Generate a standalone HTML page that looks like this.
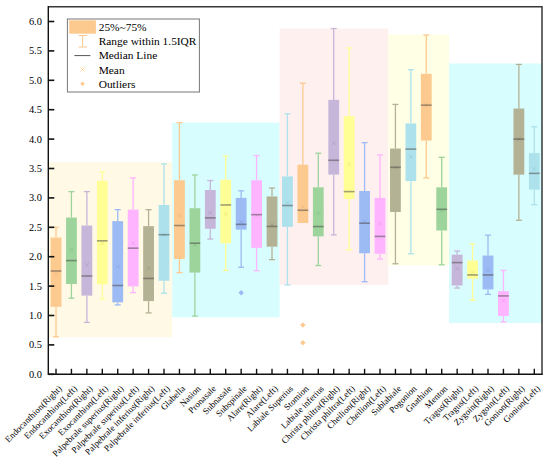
<!DOCTYPE html><html><head><meta charset="utf-8"><style>html,body{margin:0;padding:0;background:#fff;}svg{display:block}text{font-family:"Liberation Serif",serif;fill:#000}</style></head><body>
<svg width="550" height="461" viewBox="0 0 550 461">
<rect x="48.30" y="162.21" width="123.90" height="175.05" fill="#FFF9E6"/>
<rect x="172.20" y="122.64" width="107.40" height="194.63" fill="#D8FDFF"/>
<rect x="279.60" y="28.56" width="108.70" height="256.37" fill="#FFF0F0"/>
<rect x="388.30" y="34.44" width="60.70" height="231.08" fill="#FFFFE6"/>
<rect x="449.00" y="63.48" width="93.00" height="259.54" fill="#D8FDFF"/>
<line x1="56.01" y1="227.30" x2="56.01" y2="237.53" stroke="#FCCA8F" stroke-width="1.3"/>
<line x1="56.01" y1="306.80" x2="56.01" y2="336.79" stroke="#FCCA8F" stroke-width="1.3"/>
<line x1="53.01" y1="227.30" x2="59.01" y2="227.30" stroke="#FCCA8F" stroke-width="1.3"/>
<line x1="53.01" y1="336.79" x2="59.01" y2="336.79" stroke="#FCCA8F" stroke-width="1.3"/>
<rect x="50.61" y="237.53" width="10.80" height="69.27" fill="#FCCA8F"/>
<path d="M54.01 271.75L58.01 275.75M54.01 275.75L58.01 271.75" stroke="#E8A868" stroke-width="0.8" fill="none" opacity="0.55"/>
<line x1="50.61" y1="270.99" x2="61.41" y2="270.99" stroke="#4a4848" stroke-opacity="0.52" stroke-width="1.6"/>
<line x1="71.44" y1="191.61" x2="71.44" y2="217.60" stroke="#9CD49C" stroke-width="1.3"/>
<line x1="71.44" y1="284.04" x2="71.44" y2="298.21" stroke="#9CD49C" stroke-width="1.3"/>
<line x1="68.44" y1="191.61" x2="74.44" y2="191.61" stroke="#9CD49C" stroke-width="1.3"/>
<line x1="68.44" y1="298.21" x2="74.44" y2="298.21" stroke="#9CD49C" stroke-width="1.3"/>
<rect x="66.04" y="217.60" width="10.80" height="66.44" fill="#9CD49C"/>
<path d="M69.44 247.64L73.44 251.64M69.44 251.64L73.44 247.64" stroke="#78B878" stroke-width="0.8" fill="none" opacity="0.55"/>
<line x1="66.04" y1="260.58" x2="76.84" y2="260.58" stroke="#4a4848" stroke-opacity="0.52" stroke-width="1.6"/>
<line x1="86.87" y1="191.61" x2="86.87" y2="225.54" stroke="#C6B6DA" stroke-width="1.3"/>
<line x1="86.87" y1="295.63" x2="86.87" y2="322.38" stroke="#C6B6DA" stroke-width="1.3"/>
<line x1="83.87" y1="191.61" x2="89.87" y2="191.61" stroke="#C6B6DA" stroke-width="1.3"/>
<line x1="83.87" y1="322.38" x2="89.87" y2="322.38" stroke="#C6B6DA" stroke-width="1.3"/>
<rect x="81.47" y="225.54" width="10.80" height="70.09" fill="#C6B6DA"/>
<path d="M84.87 262.93L88.87 266.93M84.87 266.93L88.87 262.93" stroke="#A090C0" stroke-width="0.8" fill="none" opacity="0.55"/>
<line x1="81.47" y1="275.99" x2="92.27" y2="275.99" stroke="#4a4848" stroke-opacity="0.52" stroke-width="1.6"/>
<line x1="102.30" y1="172.03" x2="102.30" y2="180.85" stroke="#FFFF96" stroke-width="1.3"/>
<line x1="102.30" y1="284.34" x2="102.30" y2="299.04" stroke="#FFFF96" stroke-width="1.3"/>
<line x1="99.30" y1="172.03" x2="105.30" y2="172.03" stroke="#FFFF96" stroke-width="1.3"/>
<line x1="99.30" y1="299.04" x2="105.30" y2="299.04" stroke="#FFFF96" stroke-width="1.3"/>
<rect x="96.90" y="180.85" width="10.80" height="103.49" fill="#FFFF96"/>
<path d="M100.30 241.18L104.30 245.18M100.30 245.18L104.30 241.18" stroke="#D8D860" stroke-width="0.8" fill="none" opacity="0.55"/>
<line x1="96.90" y1="240.82" x2="107.70" y2="240.82" stroke="#4a4848" stroke-opacity="0.52" stroke-width="1.6"/>
<line x1="117.73" y1="209.66" x2="117.73" y2="221.13" stroke="#9CBAF4" stroke-width="1.3"/>
<line x1="117.73" y1="302.39" x2="117.73" y2="304.92" stroke="#9CBAF4" stroke-width="1.3"/>
<line x1="114.73" y1="209.66" x2="120.73" y2="209.66" stroke="#9CBAF4" stroke-width="1.3"/>
<line x1="114.73" y1="304.92" x2="120.73" y2="304.92" stroke="#9CBAF4" stroke-width="1.3"/>
<rect x="112.33" y="221.13" width="10.80" height="81.26" fill="#9CBAF4"/>
<path d="M115.73 264.70L119.73 268.70M115.73 268.70L119.73 264.70" stroke="#7898E0" stroke-width="0.8" fill="none" opacity="0.55"/>
<line x1="112.33" y1="285.51" x2="123.13" y2="285.51" stroke="#4a4848" stroke-opacity="0.52" stroke-width="1.6"/>
<line x1="133.15" y1="177.91" x2="133.15" y2="209.66" stroke="#FFB4FF" stroke-width="1.3"/>
<line x1="133.15" y1="286.39" x2="133.15" y2="292.57" stroke="#FFB4FF" stroke-width="1.3"/>
<line x1="130.15" y1="177.91" x2="136.15" y2="177.91" stroke="#FFB4FF" stroke-width="1.3"/>
<line x1="130.15" y1="292.57" x2="136.15" y2="292.57" stroke="#FFB4FF" stroke-width="1.3"/>
<rect x="127.75" y="209.66" width="10.80" height="76.73" fill="#FFB4FF"/>
<path d="M131.15 241.18L135.15 245.18M131.15 245.18L135.15 241.18" stroke="#E090E0" stroke-width="0.8" fill="none" opacity="0.55"/>
<line x1="127.75" y1="248.17" x2="138.55" y2="248.17" stroke="#4a4848" stroke-opacity="0.52" stroke-width="1.6"/>
<line x1="148.58" y1="209.66" x2="148.58" y2="226.12" stroke="#B4B294" stroke-width="1.3"/>
<line x1="148.58" y1="301.09" x2="148.58" y2="312.91" stroke="#B4B294" stroke-width="1.3"/>
<line x1="145.58" y1="209.66" x2="151.58" y2="209.66" stroke="#B4B294" stroke-width="1.3"/>
<line x1="145.58" y1="312.91" x2="151.58" y2="312.91" stroke="#B4B294" stroke-width="1.3"/>
<rect x="143.18" y="226.12" width="10.80" height="74.97" fill="#B4B294"/>
<path d="M146.58 266.46L150.58 270.46M146.58 270.46L150.58 266.46" stroke="#908E70" stroke-width="0.8" fill="none" opacity="0.55"/>
<line x1="143.18" y1="278.46" x2="153.98" y2="278.46" stroke="#4a4848" stroke-opacity="0.52" stroke-width="1.6"/>
<line x1="164.01" y1="163.91" x2="164.01" y2="204.96" stroke="#ADE2EC" stroke-width="1.3"/>
<line x1="164.01" y1="280.81" x2="164.01" y2="293.27" stroke="#ADE2EC" stroke-width="1.3"/>
<line x1="161.01" y1="163.91" x2="167.01" y2="163.91" stroke="#ADE2EC" stroke-width="1.3"/>
<line x1="161.01" y1="293.27" x2="167.01" y2="293.27" stroke="#ADE2EC" stroke-width="1.3"/>
<rect x="158.61" y="204.96" width="10.80" height="75.85" fill="#ADE2EC"/>
<path d="M162.01 232.71L166.01 236.71M162.01 236.71L166.01 232.71" stroke="#80C0D0" stroke-width="0.8" fill="none" opacity="0.55"/>
<line x1="158.61" y1="234.71" x2="169.41" y2="234.71" stroke="#4a4848" stroke-opacity="0.52" stroke-width="1.6"/>
<line x1="179.44" y1="122.64" x2="179.44" y2="180.26" stroke="#FCCA8F" stroke-width="1.3"/>
<line x1="179.44" y1="259.05" x2="179.44" y2="272.58" stroke="#FCCA8F" stroke-width="1.3"/>
<line x1="176.44" y1="122.64" x2="182.44" y2="122.64" stroke="#FCCA8F" stroke-width="1.3"/>
<line x1="176.44" y1="272.58" x2="182.44" y2="272.58" stroke="#FCCA8F" stroke-width="1.3"/>
<rect x="174.04" y="180.26" width="10.80" height="78.79" fill="#FCCA8F"/>
<path d="M177.44 213.54L181.44 217.54M177.44 217.54L181.44 213.54" stroke="#E8A868" stroke-width="0.8" fill="none" opacity="0.55"/>
<line x1="174.04" y1="225.54" x2="184.84" y2="225.54" stroke="#4a4848" stroke-opacity="0.52" stroke-width="1.6"/>
<line x1="194.87" y1="174.97" x2="194.87" y2="208.19" stroke="#9CD49C" stroke-width="1.3"/>
<line x1="194.87" y1="272.58" x2="194.87" y2="316.09" stroke="#9CD49C" stroke-width="1.3"/>
<line x1="191.87" y1="174.97" x2="197.87" y2="174.97" stroke="#9CD49C" stroke-width="1.3"/>
<line x1="191.87" y1="316.09" x2="197.87" y2="316.09" stroke="#9CD49C" stroke-width="1.3"/>
<rect x="189.47" y="208.19" width="10.80" height="64.39" fill="#9CD49C"/>
<path d="M192.87 242.94L196.87 246.94M192.87 246.94L196.87 242.94" stroke="#78B878" stroke-width="0.8" fill="none" opacity="0.55"/>
<line x1="189.47" y1="243.18" x2="200.27" y2="243.18" stroke="#4a4848" stroke-opacity="0.52" stroke-width="1.6"/>
<line x1="210.30" y1="180.55" x2="210.30" y2="189.96" stroke="#C6B6DA" stroke-width="1.3"/>
<line x1="210.30" y1="228.77" x2="210.30" y2="239.06" stroke="#C6B6DA" stroke-width="1.3"/>
<line x1="207.30" y1="180.55" x2="213.30" y2="180.55" stroke="#C6B6DA" stroke-width="1.3"/>
<line x1="207.30" y1="239.06" x2="213.30" y2="239.06" stroke="#C6B6DA" stroke-width="1.3"/>
<rect x="204.90" y="189.96" width="10.80" height="38.81" fill="#C6B6DA"/>
<path d="M208.30 210.89L212.30 214.89M208.30 214.89L212.30 210.89" stroke="#A090C0" stroke-width="0.8" fill="none" opacity="0.55"/>
<line x1="204.90" y1="217.89" x2="215.70" y2="217.89" stroke="#4a4848" stroke-opacity="0.52" stroke-width="1.6"/>
<line x1="225.72" y1="156.15" x2="225.72" y2="179.67" stroke="#FFFF96" stroke-width="1.3"/>
<line x1="225.72" y1="243.29" x2="225.72" y2="270.40" stroke="#FFFF96" stroke-width="1.3"/>
<line x1="222.72" y1="156.15" x2="228.72" y2="156.15" stroke="#FFFF96" stroke-width="1.3"/>
<line x1="222.72" y1="270.40" x2="228.72" y2="270.40" stroke="#FFFF96" stroke-width="1.3"/>
<rect x="220.32" y="179.67" width="10.80" height="63.62" fill="#FFFF96"/>
<path d="M223.72 212.07L227.72 216.07M223.72 216.07L227.72 212.07" stroke="#D8D860" stroke-width="0.8" fill="none" opacity="0.55"/>
<line x1="220.32" y1="204.96" x2="231.12" y2="204.96" stroke="#4a4848" stroke-opacity="0.52" stroke-width="1.6"/>
<line x1="241.15" y1="190.84" x2="241.15" y2="197.90" stroke="#9CBAF4" stroke-width="1.3"/>
<line x1="241.15" y1="229.65" x2="241.15" y2="267.28" stroke="#9CBAF4" stroke-width="1.3"/>
<line x1="238.15" y1="190.84" x2="244.15" y2="190.84" stroke="#9CBAF4" stroke-width="1.3"/>
<line x1="238.15" y1="267.28" x2="244.15" y2="267.28" stroke="#9CBAF4" stroke-width="1.3"/>
<rect x="235.75" y="197.90" width="10.80" height="31.75" fill="#9CBAF4"/>
<path d="M239.15 220.01L243.15 224.01M239.15 224.01L243.15 220.01" stroke="#7898E0" stroke-width="0.8" fill="none" opacity="0.55"/>
<line x1="235.75" y1="224.36" x2="246.55" y2="224.36" stroke="#4a4848" stroke-opacity="0.52" stroke-width="1.6"/>
<path d="M241.15 290.10L243.85 292.80L241.15 295.50L238.45 292.80Z" fill="#9CBAF4"/>
<line x1="256.58" y1="155.56" x2="256.58" y2="180.26" stroke="#FFB4FF" stroke-width="1.3"/>
<line x1="256.58" y1="247.88" x2="256.58" y2="270.69" stroke="#FFB4FF" stroke-width="1.3"/>
<line x1="253.58" y1="155.56" x2="259.58" y2="155.56" stroke="#FFB4FF" stroke-width="1.3"/>
<line x1="253.58" y1="270.69" x2="259.58" y2="270.69" stroke="#FFB4FF" stroke-width="1.3"/>
<rect x="251.18" y="180.26" width="10.80" height="67.62" fill="#FFB4FF"/>
<path d="M254.58 213.54L258.58 217.54M254.58 217.54L258.58 213.54" stroke="#E090E0" stroke-width="0.8" fill="none" opacity="0.55"/>
<line x1="251.18" y1="214.66" x2="261.98" y2="214.66" stroke="#4a4848" stroke-opacity="0.52" stroke-width="1.6"/>
<line x1="272.01" y1="188.08" x2="272.01" y2="196.49" stroke="#B4B294" stroke-width="1.3"/>
<line x1="272.01" y1="246.70" x2="272.01" y2="259.64" stroke="#B4B294" stroke-width="1.3"/>
<line x1="269.01" y1="188.08" x2="275.01" y2="188.08" stroke="#B4B294" stroke-width="1.3"/>
<line x1="269.01" y1="259.64" x2="275.01" y2="259.64" stroke="#B4B294" stroke-width="1.3"/>
<rect x="266.61" y="196.49" width="10.80" height="50.22" fill="#B4B294"/>
<path d="M270.01 222.95L274.01 226.95M270.01 226.95L274.01 222.95" stroke="#908E70" stroke-width="0.8" fill="none" opacity="0.55"/>
<line x1="266.61" y1="226.42" x2="277.41" y2="226.42" stroke="#4a4848" stroke-opacity="0.52" stroke-width="1.6"/>
<line x1="287.44" y1="113.82" x2="287.44" y2="176.38" stroke="#ADE2EC" stroke-width="1.3"/>
<line x1="287.44" y1="226.89" x2="287.44" y2="284.92" stroke="#ADE2EC" stroke-width="1.3"/>
<line x1="284.44" y1="113.82" x2="290.44" y2="113.82" stroke="#ADE2EC" stroke-width="1.3"/>
<line x1="284.44" y1="284.92" x2="290.44" y2="284.92" stroke="#ADE2EC" stroke-width="1.3"/>
<rect x="282.04" y="176.38" width="10.80" height="50.51" fill="#ADE2EC"/>
<path d="M285.44 200.60L289.44 204.60M285.44 204.60L289.44 200.60" stroke="#80C0D0" stroke-width="0.8" fill="none" opacity="0.55"/>
<line x1="282.04" y1="205.54" x2="292.84" y2="205.54" stroke="#4a4848" stroke-opacity="0.52" stroke-width="1.6"/>
<line x1="302.86" y1="83.24" x2="302.86" y2="164.68" stroke="#FCCA8F" stroke-width="1.3"/>
<line x1="302.86" y1="223.01" x2="302.86" y2="223.01" stroke="#FCCA8F" stroke-width="1.3"/>
<line x1="299.86" y1="83.24" x2="305.86" y2="83.24" stroke="#FCCA8F" stroke-width="1.3"/>
<rect x="297.46" y="164.68" width="10.80" height="58.33" fill="#FCCA8F"/>
<path d="M300.86 204.72L304.86 208.72M300.86 208.72L304.86 204.72" stroke="#E8A868" stroke-width="0.8" fill="none" opacity="0.55"/>
<line x1="297.46" y1="210.25" x2="308.26" y2="210.25" stroke="#4a4848" stroke-opacity="0.52" stroke-width="1.6"/>
<path d="M302.86 322.33L305.56 325.03L302.86 327.73L300.16 325.03Z" fill="#FCCA8F"/>
<path d="M302.86 340.02L305.56 342.72L302.86 345.42L300.16 342.72Z" fill="#FCCA8F"/>
<line x1="318.29" y1="153.21" x2="318.29" y2="187.32" stroke="#9CD49C" stroke-width="1.3"/>
<line x1="318.29" y1="236.41" x2="318.29" y2="265.52" stroke="#9CD49C" stroke-width="1.3"/>
<line x1="315.29" y1="153.21" x2="321.29" y2="153.21" stroke="#9CD49C" stroke-width="1.3"/>
<line x1="315.29" y1="265.52" x2="321.29" y2="265.52" stroke="#9CD49C" stroke-width="1.3"/>
<rect x="312.89" y="187.32" width="10.80" height="49.10" fill="#9CD49C"/>
<path d="M316.29 211.19L320.29 215.19M316.29 215.19L320.29 211.19" stroke="#78B878" stroke-width="0.8" fill="none" opacity="0.55"/>
<line x1="312.89" y1="226.54" x2="323.69" y2="226.54" stroke="#4a4848" stroke-opacity="0.52" stroke-width="1.6"/>
<line x1="333.72" y1="28.56" x2="333.72" y2="99.88" stroke="#C6B6DA" stroke-width="1.3"/>
<line x1="333.72" y1="174.62" x2="333.72" y2="234.94" stroke="#C6B6DA" stroke-width="1.3"/>
<line x1="330.72" y1="28.56" x2="336.72" y2="28.56" stroke="#C6B6DA" stroke-width="1.3"/>
<line x1="330.72" y1="234.94" x2="336.72" y2="234.94" stroke="#C6B6DA" stroke-width="1.3"/>
<rect x="328.32" y="99.88" width="10.80" height="74.73" fill="#C6B6DA"/>
<path d="M331.72 141.22L335.72 145.22M331.72 145.22L335.72 141.22" stroke="#A090C0" stroke-width="0.8" fill="none" opacity="0.55"/>
<line x1="328.32" y1="160.27" x2="339.12" y2="160.27" stroke="#4a4848" stroke-opacity="0.52" stroke-width="1.6"/>
<line x1="349.15" y1="47.96" x2="349.15" y2="116.17" stroke="#FFFF96" stroke-width="1.3"/>
<line x1="349.15" y1="199.08" x2="349.15" y2="249.88" stroke="#FFFF96" stroke-width="1.3"/>
<line x1="346.15" y1="47.96" x2="352.15" y2="47.96" stroke="#FFFF96" stroke-width="1.3"/>
<line x1="346.15" y1="249.88" x2="352.15" y2="249.88" stroke="#FFFF96" stroke-width="1.3"/>
<rect x="343.75" y="116.17" width="10.80" height="82.91" fill="#FFFF96"/>
<path d="M347.15 162.38L351.15 166.38M347.15 166.38L351.15 162.38" stroke="#D8D860" stroke-width="0.8" fill="none" opacity="0.55"/>
<line x1="343.75" y1="191.61" x2="354.55" y2="191.61" stroke="#4a4848" stroke-opacity="0.52" stroke-width="1.6"/>
<line x1="364.58" y1="142.63" x2="364.58" y2="191.02" stroke="#9CBAF4" stroke-width="1.3"/>
<line x1="364.58" y1="253.29" x2="364.58" y2="281.69" stroke="#9CBAF4" stroke-width="1.3"/>
<line x1="361.58" y1="142.63" x2="367.58" y2="142.63" stroke="#9CBAF4" stroke-width="1.3"/>
<line x1="361.58" y1="281.69" x2="367.58" y2="281.69" stroke="#9CBAF4" stroke-width="1.3"/>
<rect x="359.18" y="191.02" width="10.80" height="62.27" fill="#9CBAF4"/>
<path d="M362.58 219.42L366.58 223.42M362.58 223.42L366.58 219.42" stroke="#7898E0" stroke-width="0.8" fill="none" opacity="0.55"/>
<line x1="359.18" y1="223.18" x2="369.98" y2="223.18" stroke="#4a4848" stroke-opacity="0.52" stroke-width="1.6"/>
<line x1="380.00" y1="154.98" x2="380.00" y2="197.90" stroke="#FFB4FF" stroke-width="1.3"/>
<line x1="380.00" y1="253.76" x2="380.00" y2="259.05" stroke="#FFB4FF" stroke-width="1.3"/>
<line x1="377.00" y1="154.98" x2="383.00" y2="154.98" stroke="#FFB4FF" stroke-width="1.3"/>
<line x1="377.00" y1="259.05" x2="383.00" y2="259.05" stroke="#FFB4FF" stroke-width="1.3"/>
<rect x="374.60" y="197.90" width="10.80" height="55.86" fill="#FFB4FF"/>
<path d="M378.00 221.77L382.00 225.77M378.00 225.77L382.00 221.77" stroke="#E090E0" stroke-width="0.8" fill="none" opacity="0.55"/>
<line x1="374.60" y1="236.41" x2="385.40" y2="236.41" stroke="#4a4848" stroke-opacity="0.52" stroke-width="1.6"/>
<line x1="395.43" y1="104.41" x2="395.43" y2="148.51" stroke="#B4B294" stroke-width="1.3"/>
<line x1="395.43" y1="212.01" x2="395.43" y2="263.76" stroke="#B4B294" stroke-width="1.3"/>
<line x1="392.43" y1="104.41" x2="398.43" y2="104.41" stroke="#B4B294" stroke-width="1.3"/>
<line x1="392.43" y1="263.76" x2="398.43" y2="263.76" stroke="#B4B294" stroke-width="1.3"/>
<rect x="390.03" y="148.51" width="10.80" height="63.50" fill="#B4B294"/>
<path d="M393.43 165.32L397.43 169.32M393.43 169.32L397.43 165.32" stroke="#908E70" stroke-width="0.8" fill="none" opacity="0.55"/>
<line x1="390.03" y1="167.32" x2="400.83" y2="167.32" stroke="#4a4848" stroke-opacity="0.52" stroke-width="1.6"/>
<line x1="410.86" y1="69.72" x2="410.86" y2="123.40" stroke="#ADE2EC" stroke-width="1.3"/>
<line x1="410.86" y1="181.14" x2="410.86" y2="253.76" stroke="#ADE2EC" stroke-width="1.3"/>
<line x1="407.86" y1="69.72" x2="413.86" y2="69.72" stroke="#ADE2EC" stroke-width="1.3"/>
<line x1="407.86" y1="253.76" x2="413.86" y2="253.76" stroke="#ADE2EC" stroke-width="1.3"/>
<rect x="405.46" y="123.40" width="10.80" height="57.74" fill="#ADE2EC"/>
<path d="M408.86 154.74L412.86 158.74M408.86 158.74L412.86 154.74" stroke="#80C0D0" stroke-width="0.8" fill="none" opacity="0.55"/>
<line x1="405.46" y1="149.10" x2="416.26" y2="149.10" stroke="#4a4848" stroke-opacity="0.52" stroke-width="1.6"/>
<line x1="426.29" y1="35.02" x2="426.29" y2="73.83" stroke="#FCCA8F" stroke-width="1.3"/>
<line x1="426.29" y1="140.57" x2="426.29" y2="177.91" stroke="#FCCA8F" stroke-width="1.3"/>
<line x1="423.29" y1="35.02" x2="429.29" y2="35.02" stroke="#FCCA8F" stroke-width="1.3"/>
<line x1="423.29" y1="177.91" x2="429.29" y2="177.91" stroke="#FCCA8F" stroke-width="1.3"/>
<rect x="420.89" y="73.83" width="10.80" height="66.74" fill="#FCCA8F"/>
<path d="M424.29 103.17L428.29 107.17M424.29 107.17L428.29 103.17" stroke="#E8A868" stroke-width="0.8" fill="none" opacity="0.55"/>
<line x1="420.89" y1="105.17" x2="431.69" y2="105.17" stroke="#4a4848" stroke-opacity="0.52" stroke-width="1.6"/>
<line x1="441.72" y1="157.33" x2="441.72" y2="187.32" stroke="#9CD49C" stroke-width="1.3"/>
<line x1="441.72" y1="230.53" x2="441.72" y2="264.81" stroke="#9CD49C" stroke-width="1.3"/>
<line x1="438.72" y1="157.33" x2="444.72" y2="157.33" stroke="#9CD49C" stroke-width="1.3"/>
<line x1="438.72" y1="264.81" x2="444.72" y2="264.81" stroke="#9CD49C" stroke-width="1.3"/>
<rect x="436.32" y="187.32" width="10.80" height="43.22" fill="#9CD49C"/>
<path d="M439.72 208.84L443.72 212.84M439.72 212.84L443.72 208.84" stroke="#78B878" stroke-width="0.8" fill="none" opacity="0.55"/>
<line x1="436.32" y1="209.31" x2="447.12" y2="209.31" stroke="#4a4848" stroke-opacity="0.52" stroke-width="1.6"/>
<line x1="457.15" y1="251.00" x2="457.15" y2="254.70" stroke="#C6B6DA" stroke-width="1.3"/>
<line x1="457.15" y1="285.51" x2="457.15" y2="288.04" stroke="#C6B6DA" stroke-width="1.3"/>
<line x1="454.15" y1="251.00" x2="460.15" y2="251.00" stroke="#C6B6DA" stroke-width="1.3"/>
<line x1="454.15" y1="288.04" x2="460.15" y2="288.04" stroke="#C6B6DA" stroke-width="1.3"/>
<rect x="451.75" y="254.70" width="10.80" height="30.81" fill="#C6B6DA"/>
<path d="M455.15 266.46L459.15 270.46M455.15 270.46L459.15 266.46" stroke="#A090C0" stroke-width="0.8" fill="none" opacity="0.55"/>
<line x1="451.75" y1="262.58" x2="462.55" y2="262.58" stroke="#4a4848" stroke-opacity="0.52" stroke-width="1.6"/>
<line x1="472.57" y1="244.00" x2="472.57" y2="260.52" stroke="#FFFF96" stroke-width="1.3"/>
<line x1="472.57" y1="278.69" x2="472.57" y2="300.33" stroke="#FFFF96" stroke-width="1.3"/>
<line x1="469.57" y1="244.00" x2="475.57" y2="244.00" stroke="#FFFF96" stroke-width="1.3"/>
<line x1="469.57" y1="300.33" x2="475.57" y2="300.33" stroke="#FFFF96" stroke-width="1.3"/>
<rect x="467.17" y="260.52" width="10.80" height="18.17" fill="#FFFF96"/>
<path d="M470.57 270.22L474.57 274.22M470.57 274.22L474.57 270.22" stroke="#D8D860" stroke-width="0.8" fill="none" opacity="0.55"/>
<line x1="467.17" y1="274.93" x2="477.97" y2="274.93" stroke="#4a4848" stroke-opacity="0.52" stroke-width="1.6"/>
<line x1="488.00" y1="235.18" x2="488.00" y2="255.52" stroke="#9CBAF4" stroke-width="1.3"/>
<line x1="488.00" y1="289.39" x2="488.00" y2="294.33" stroke="#9CBAF4" stroke-width="1.3"/>
<line x1="485.00" y1="235.18" x2="491.00" y2="235.18" stroke="#9CBAF4" stroke-width="1.3"/>
<line x1="485.00" y1="294.33" x2="491.00" y2="294.33" stroke="#9CBAF4" stroke-width="1.3"/>
<rect x="482.60" y="255.52" width="10.80" height="33.87" fill="#9CBAF4"/>
<path d="M486.00 268.22L490.00 272.22M486.00 272.22L490.00 268.22" stroke="#7898E0" stroke-width="0.8" fill="none" opacity="0.55"/>
<line x1="482.60" y1="274.93" x2="493.40" y2="274.93" stroke="#4a4848" stroke-opacity="0.52" stroke-width="1.6"/>
<line x1="503.43" y1="270.40" x2="503.43" y2="291.22" stroke="#FFB4FF" stroke-width="1.3"/>
<line x1="503.43" y1="315.91" x2="503.43" y2="321.97" stroke="#FFB4FF" stroke-width="1.3"/>
<line x1="500.43" y1="270.40" x2="506.43" y2="270.40" stroke="#FFB4FF" stroke-width="1.3"/>
<line x1="500.43" y1="321.97" x2="506.43" y2="321.97" stroke="#FFB4FF" stroke-width="1.3"/>
<rect x="498.03" y="291.22" width="10.80" height="24.70" fill="#FFB4FF"/>
<path d="M501.43 298.80L505.43 302.80M501.43 302.80L505.43 298.80" stroke="#E090E0" stroke-width="0.8" fill="none" opacity="0.55"/>
<line x1="498.03" y1="295.92" x2="508.83" y2="295.92" stroke="#4a4848" stroke-opacity="0.52" stroke-width="1.6"/>
<line x1="518.86" y1="64.42" x2="518.86" y2="108.52" stroke="#B4B294" stroke-width="1.3"/>
<line x1="518.86" y1="174.67" x2="518.86" y2="220.24" stroke="#B4B294" stroke-width="1.3"/>
<line x1="515.86" y1="64.42" x2="521.86" y2="64.42" stroke="#B4B294" stroke-width="1.3"/>
<line x1="515.86" y1="220.24" x2="521.86" y2="220.24" stroke="#B4B294" stroke-width="1.3"/>
<rect x="513.46" y="108.52" width="10.80" height="66.15" fill="#B4B294"/>
<path d="M516.86 137.10L520.86 141.10M516.86 141.10L520.86 137.10" stroke="#908E70" stroke-width="0.8" fill="none" opacity="0.55"/>
<line x1="513.46" y1="139.10" x2="524.26" y2="139.10" stroke="#4a4848" stroke-opacity="0.52" stroke-width="1.6"/>
<line x1="534.29" y1="126.75" x2="534.29" y2="153.09" stroke="#ADE2EC" stroke-width="1.3"/>
<line x1="534.29" y1="189.67" x2="534.29" y2="204.66" stroke="#ADE2EC" stroke-width="1.3"/>
<line x1="531.29" y1="126.75" x2="537.29" y2="126.75" stroke="#ADE2EC" stroke-width="1.3"/>
<line x1="531.29" y1="204.66" x2="537.29" y2="204.66" stroke="#ADE2EC" stroke-width="1.3"/>
<rect x="528.89" y="153.09" width="10.80" height="36.57" fill="#ADE2EC"/>
<path d="M532.29 167.09L536.29 171.09M532.29 171.09L536.29 167.09" stroke="#80C0D0" stroke-width="0.8" fill="none" opacity="0.55"/>
<line x1="528.89" y1="173.38" x2="539.69" y2="173.38" stroke="#4a4848" stroke-opacity="0.52" stroke-width="1.6"/>
<path d="M48.30 6.80H542.00V374.30" fill="none" stroke="#383838" stroke-width="1.5"/>
<path d="M48.30 6.10V374.30H542.70" fill="none" stroke="#111" stroke-width="1.4"/>
<line x1="48.30" y1="374.30" x2="54.30" y2="374.30" stroke="#111" stroke-width="1.6"/>
<text x="41.9" y="377.70" font-size="10.4" text-anchor="end">0.0</text>
<line x1="48.30" y1="344.90" x2="54.30" y2="344.90" stroke="#111" stroke-width="1.6"/>
<text x="41.9" y="348.30" font-size="10.4" text-anchor="end">0.5</text>
<line x1="48.30" y1="315.50" x2="54.30" y2="315.50" stroke="#111" stroke-width="1.6"/>
<text x="41.9" y="318.90" font-size="10.4" text-anchor="end">1.0</text>
<line x1="48.30" y1="286.10" x2="54.30" y2="286.10" stroke="#111" stroke-width="1.6"/>
<text x="41.9" y="289.50" font-size="10.4" text-anchor="end">1.5</text>
<line x1="48.30" y1="256.70" x2="54.30" y2="256.70" stroke="#111" stroke-width="1.6"/>
<text x="41.9" y="260.10" font-size="10.4" text-anchor="end">2.0</text>
<line x1="48.30" y1="227.30" x2="54.30" y2="227.30" stroke="#111" stroke-width="1.6"/>
<text x="41.9" y="230.70" font-size="10.4" text-anchor="end">2.5</text>
<line x1="48.30" y1="197.90" x2="54.30" y2="197.90" stroke="#111" stroke-width="1.6"/>
<text x="41.9" y="201.30" font-size="10.4" text-anchor="end">3.0</text>
<line x1="48.30" y1="168.50" x2="54.30" y2="168.50" stroke="#111" stroke-width="1.6"/>
<text x="41.9" y="171.90" font-size="10.4" text-anchor="end">3.5</text>
<line x1="48.30" y1="139.10" x2="54.30" y2="139.10" stroke="#111" stroke-width="1.6"/>
<text x="41.9" y="142.50" font-size="10.4" text-anchor="end">4.0</text>
<line x1="48.30" y1="109.70" x2="54.30" y2="109.70" stroke="#111" stroke-width="1.6"/>
<text x="41.9" y="113.10" font-size="10.4" text-anchor="end">4.5</text>
<line x1="48.30" y1="80.30" x2="54.30" y2="80.30" stroke="#111" stroke-width="1.6"/>
<text x="41.9" y="83.70" font-size="10.4" text-anchor="end">5.0</text>
<line x1="48.30" y1="50.90" x2="54.30" y2="50.90" stroke="#111" stroke-width="1.6"/>
<text x="41.9" y="54.30" font-size="10.4" text-anchor="end">5.5</text>
<line x1="48.30" y1="21.50" x2="54.30" y2="21.50" stroke="#111" stroke-width="1.6"/>
<text x="41.9" y="24.90" font-size="10.4" text-anchor="end">6.0</text>
<line x1="56.01" y1="374.30" x2="56.01" y2="368.80" stroke="#111" stroke-width="1.4"/>
<text transform="translate(62.31,389.20) rotate(-45)" font-size="9.0" text-anchor="end">Endocanthion(Right)</text>
<line x1="71.44" y1="374.30" x2="71.44" y2="368.80" stroke="#111" stroke-width="1.4"/>
<text transform="translate(77.74,389.20) rotate(-45)" font-size="9.0" text-anchor="end">Endocanthion(Left)</text>
<line x1="86.87" y1="374.30" x2="86.87" y2="368.80" stroke="#111" stroke-width="1.4"/>
<text transform="translate(93.17,389.20) rotate(-45)" font-size="9.0" text-anchor="end">Exocanthion(Right)</text>
<line x1="102.30" y1="374.30" x2="102.30" y2="368.80" stroke="#111" stroke-width="1.4"/>
<text transform="translate(108.60,389.20) rotate(-45)" font-size="9.0" text-anchor="end">Exocanthion(Left)</text>
<line x1="117.73" y1="374.30" x2="117.73" y2="368.80" stroke="#111" stroke-width="1.4"/>
<text transform="translate(124.03,389.20) rotate(-45)" font-size="9.0" text-anchor="end">Palpebrale superius(Right)</text>
<line x1="133.15" y1="374.30" x2="133.15" y2="368.80" stroke="#111" stroke-width="1.4"/>
<text transform="translate(139.45,389.20) rotate(-45)" font-size="9.0" text-anchor="end">Palpebrale superius(Left)</text>
<line x1="148.58" y1="374.30" x2="148.58" y2="368.80" stroke="#111" stroke-width="1.4"/>
<text transform="translate(154.88,389.20) rotate(-45)" font-size="9.0" text-anchor="end">Palpebrale inferius(Right)</text>
<line x1="164.01" y1="374.30" x2="164.01" y2="368.80" stroke="#111" stroke-width="1.4"/>
<text transform="translate(170.31,389.20) rotate(-45)" font-size="9.0" text-anchor="end">Palpebrale inferius(Left)</text>
<line x1="179.44" y1="374.30" x2="179.44" y2="368.80" stroke="#111" stroke-width="1.4"/>
<text transform="translate(185.74,389.20) rotate(-45)" font-size="9.0" text-anchor="end">Glabella</text>
<line x1="194.87" y1="374.30" x2="194.87" y2="368.80" stroke="#111" stroke-width="1.4"/>
<text transform="translate(201.17,389.20) rotate(-45)" font-size="9.0" text-anchor="end">Nasion</text>
<line x1="210.30" y1="374.30" x2="210.30" y2="368.80" stroke="#111" stroke-width="1.4"/>
<text transform="translate(216.60,389.20) rotate(-45)" font-size="9.0" text-anchor="end">Pronasale</text>
<line x1="225.72" y1="374.30" x2="225.72" y2="368.80" stroke="#111" stroke-width="1.4"/>
<text transform="translate(232.02,389.20) rotate(-45)" font-size="9.0" text-anchor="end">Subnasale</text>
<line x1="241.15" y1="374.30" x2="241.15" y2="368.80" stroke="#111" stroke-width="1.4"/>
<text transform="translate(247.45,389.20) rotate(-45)" font-size="9.0" text-anchor="end">Subspinale</text>
<line x1="256.58" y1="374.30" x2="256.58" y2="368.80" stroke="#111" stroke-width="1.4"/>
<text transform="translate(262.88,389.20) rotate(-45)" font-size="9.0" text-anchor="end">Alare(Right)</text>
<line x1="272.01" y1="374.30" x2="272.01" y2="368.80" stroke="#111" stroke-width="1.4"/>
<text transform="translate(278.31,389.20) rotate(-45)" font-size="9.0" text-anchor="end">Alare(Left)</text>
<line x1="287.44" y1="374.30" x2="287.44" y2="368.80" stroke="#111" stroke-width="1.4"/>
<text transform="translate(293.74,389.20) rotate(-45)" font-size="9.0" text-anchor="end">Labiale Superius</text>
<line x1="302.86" y1="374.30" x2="302.86" y2="368.80" stroke="#111" stroke-width="1.4"/>
<text transform="translate(309.16,389.20) rotate(-45)" font-size="9.0" text-anchor="end">Stomion</text>
<line x1="318.29" y1="374.30" x2="318.29" y2="368.80" stroke="#111" stroke-width="1.4"/>
<text transform="translate(324.59,389.20) rotate(-45)" font-size="9.0" text-anchor="end">Labiale inferius</text>
<line x1="333.72" y1="374.30" x2="333.72" y2="368.80" stroke="#111" stroke-width="1.4"/>
<text transform="translate(340.02,389.20) rotate(-45)" font-size="9.0" text-anchor="end">Christa philtra(Right)</text>
<line x1="349.15" y1="374.30" x2="349.15" y2="368.80" stroke="#111" stroke-width="1.4"/>
<text transform="translate(355.45,389.20) rotate(-45)" font-size="9.0" text-anchor="end">Christa philtra(Left)</text>
<line x1="364.58" y1="374.30" x2="364.58" y2="368.80" stroke="#111" stroke-width="1.4"/>
<text transform="translate(370.88,389.20) rotate(-45)" font-size="9.0" text-anchor="end">Cheilion(Right)</text>
<line x1="380.00" y1="374.30" x2="380.00" y2="368.80" stroke="#111" stroke-width="1.4"/>
<text transform="translate(386.30,389.20) rotate(-45)" font-size="9.0" text-anchor="end">Cheilion(Left)</text>
<line x1="395.43" y1="374.30" x2="395.43" y2="368.80" stroke="#111" stroke-width="1.4"/>
<text transform="translate(401.73,389.20) rotate(-45)" font-size="9.0" text-anchor="end">Sublabiale</text>
<line x1="410.86" y1="374.30" x2="410.86" y2="368.80" stroke="#111" stroke-width="1.4"/>
<text transform="translate(417.16,389.20) rotate(-45)" font-size="9.0" text-anchor="end">Pogonion</text>
<line x1="426.29" y1="374.30" x2="426.29" y2="368.80" stroke="#111" stroke-width="1.4"/>
<text transform="translate(432.59,389.20) rotate(-45)" font-size="9.0" text-anchor="end">Gnathion</text>
<line x1="441.72" y1="374.30" x2="441.72" y2="368.80" stroke="#111" stroke-width="1.4"/>
<text transform="translate(448.02,389.20) rotate(-45)" font-size="9.0" text-anchor="end">Menton</text>
<line x1="457.15" y1="374.30" x2="457.15" y2="368.80" stroke="#111" stroke-width="1.4"/>
<text transform="translate(463.45,389.20) rotate(-45)" font-size="9.0" text-anchor="end">Tragus(Right)</text>
<line x1="472.57" y1="374.30" x2="472.57" y2="368.80" stroke="#111" stroke-width="1.4"/>
<text transform="translate(478.87,389.20) rotate(-45)" font-size="9.0" text-anchor="end">Tragus(Left)</text>
<line x1="488.00" y1="374.30" x2="488.00" y2="368.80" stroke="#111" stroke-width="1.4"/>
<text transform="translate(494.30,389.20) rotate(-45)" font-size="9.0" text-anchor="end">Zygoin(Right)</text>
<line x1="503.43" y1="374.30" x2="503.43" y2="368.80" stroke="#111" stroke-width="1.4"/>
<text transform="translate(509.73,389.20) rotate(-45)" font-size="9.0" text-anchor="end">Zygoin(Left)</text>
<line x1="518.86" y1="374.30" x2="518.86" y2="368.80" stroke="#111" stroke-width="1.4"/>
<text transform="translate(525.16,389.20) rotate(-45)" font-size="9.0" text-anchor="end">Gonion(Right)</text>
<line x1="534.29" y1="374.30" x2="534.29" y2="368.80" stroke="#111" stroke-width="1.4"/>
<text transform="translate(540.59,389.20) rotate(-45)" font-size="9.0" text-anchor="end">Gonion(Left)</text>
<rect x="67.4" y="19" width="132" height="73" fill="#fff" stroke="#777" stroke-width="1"/>
<rect x="69.2" y="20.3" width="26.7" height="13.4" fill="#FCCA8F"/>
<path d="M82.6 35.5V47M78.5 35.5H87M78.5 47H87" stroke="#FCCA8F" stroke-width="1" fill="none"/>
<line x1="74.4" y1="55.6" x2="90.4" y2="55.6" stroke="#555" stroke-width="1"/>
<path d="M80.5 67.5L84.5 71.5M80.5 71.5L84.5 67.5" stroke="#FCCA8F" stroke-width="0.8" fill="none"/>
<path d="M82.5 81.5L84.8 83.8L82.5 86.1L80.2 83.8Z" fill="#FCCA8F"/>
<text x="98.7" y="31.00" font-size="11.4">25%~75%</text>
<text x="98.7" y="45.20" font-size="11.4">Range within 1.5IQR</text>
<text x="98.7" y="59.40" font-size="11.4">Median Line</text>
<text x="98.7" y="73.60" font-size="11.4">Mean</text>
<text x="98.7" y="87.80" font-size="11.4">Outliers</text>
</svg></body></html>
